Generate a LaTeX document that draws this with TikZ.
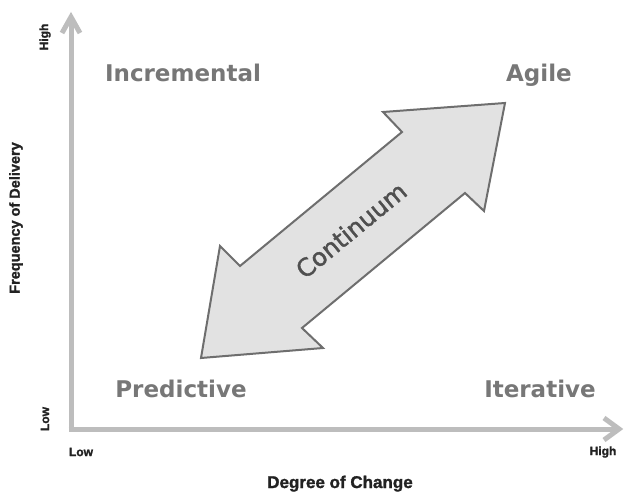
\documentclass[tikz,border=0pt]{standalone}
\usepackage{fontspec}
\setmainfont{Liberation Sans}
\newfontfamily\quadfont{DejaVu Sans}
\newfontfamily\contfont[FakeBold=1.6]{DejaVu Sans}
\newfontfamily\heavyfont[FakeBold=1.5]{Liberation Sans Bold}
\usetikzlibrary{calc}
\definecolor{axisgray}{HTML}{BDBDBD}
\definecolor{quadgray}{HTML}{777777}
\definecolor{arrfill}{HTML}{E2E2E2}
\definecolor{arrdraw}{HTML}{6E6E6E}
\definecolor{contgray}{HTML}{4F4F4F}
\definecolor{labdark}{HTML}{222222}
\tikzset{
  axisline/.style={draw=axisgray, line width=5pt},
  axishead/.style={draw=axisgray, line width=5pt, line join=miter, line cap=butt},
  quadlabel/.style={font=\quadfont\bfseries\fontsize{23}{26}\selectfont, text=quadgray, anchor=base, inner sep=0pt},
  smalllabel/.style={font=\heavyfont\fontsize{12}{14}\selectfont, text=labdark, inner sep=0pt},
  axistitle/.style={font=\heavyfont\fontsize{17}{19}\selectfont, text=labdark, inner sep=0pt},
  bigarrow/.style={fill=arrfill, draw=arrdraw, line width=2pt, line join=miter},
  contlabel/.style={font=\contfont\fontsize{24.5}{27}\selectfont, text=contgray, inner sep=0pt}
}
\begin{document}
\begin{tikzpicture}[x=1pt,y=-1pt]
\useasboundingbox (0,0) rectangle (637,494);
\fill[white] (0,0) rectangle (637,494);
% axes
\coordinate (O) at (71,429);
\coordinate (Ytip) at (71,17);
\coordinate (Xtip) at (619,429);
\draw[axisline] (O) -- ($(Ytip)+(0,4)$);
\draw[axisline] ($(O)+(-2.5,0)$) -- ($(Xtip)+(-4,0)$);
\draw[axishead] ($(Ytip)+(-9,16)$) -- (Ytip) -- ($(Ytip)+(9,16)$);
\draw[axishead] ($(Xtip)+(-15,-11)$) -- (Xtip) -- ($(Xtip)+(-15,11)$);
% axis labels
\node[smalllabel, rotate=90] (yhigh) at (45,37) {High};
\node[smalllabel, rotate=90] (ylow) at (45,419) {Low};
\node[smalllabel] (xlow) at (81,452) {Low};
\node[smalllabel] (xhigh) at (603,452) {High};
\node[axistitle, anchor=base] (xtitle) at (340,488) {Degree of Change};
\node[axistitle, rotate=90, font=\heavyfont\fontsize{14.5}{16}\selectfont] (ytitle) at (16,218) {Frequency of Delivery};
% quadrant labels
\node[quadlabel] (incr) at (183,82) {Incremental};
\node[quadlabel] (agile) at (539,82) {Agile};
\node[quadlabel] (pred) at (181,397) {Predictive};
\node[quadlabel] (iter) at (540,397) {Iterative};
% continuum arrow
\draw[bigarrow] (505,103) -- (484,211) -- (465,193) -- (302,328) -- (323,348)
  -- (201,358) -- (220,246) -- (240,266) -- (402,132) -- (383,112) -- cycle;
\node[contlabel, rotate=39.5] (cont) at (351,230) {Continuum};
\end{tikzpicture}
\end{document}
